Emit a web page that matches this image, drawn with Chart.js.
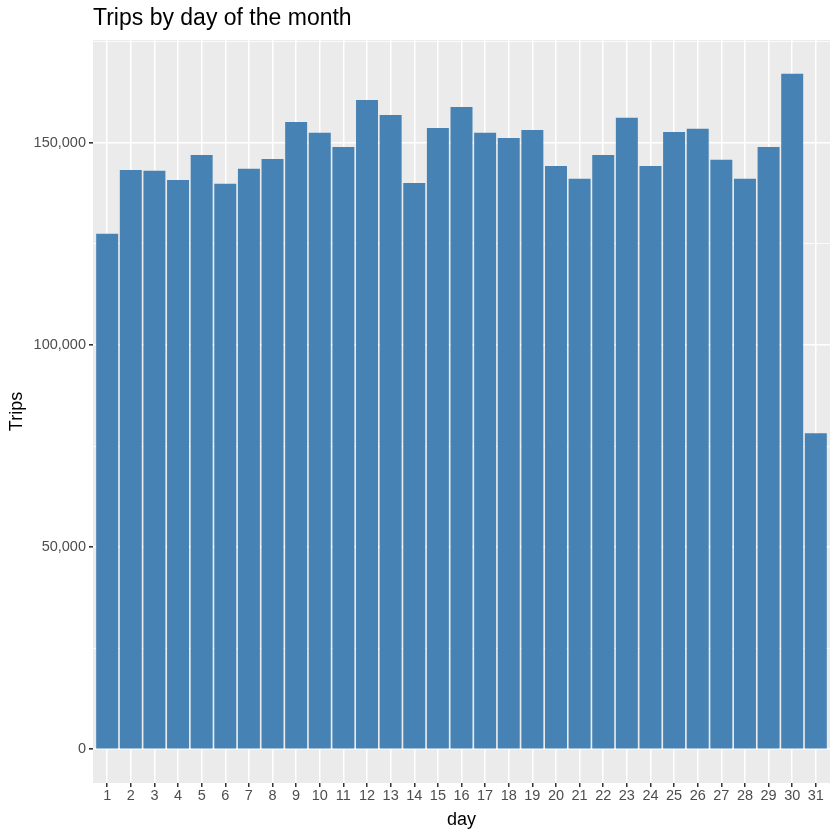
<!DOCTYPE html>
<html>
<head>
<meta charset="utf-8">
<script src="https://cdn.jsdelivr.net/npm/chart.js@4"></script>
<style>
  html, body { margin: 0; padding: 0; background: #ffffff; }
  #wrap { width: 840px; height: 840px; }
</style>
</head>
<body>
<div id="wrap"><canvas id="chart"></canvas></div>
<script>
const days = [1, 2, 3, 4, 5, 6, 7, 8, 9, 10, 11, 12, 13, 14, 15, 16,
  17, 18, 19, 20, 21, 22, 23, 24, 25, 26, 27, 28, 29, 30, 31]
const trips = [127500, 143300, 143100, 140800, 147000, 139900, 143600, 146000,
  155200, 152500, 149000, 160600, 156900, 140100, 153700, 158900,
  152500, 151200, 153200, 144300, 141100, 147000, 156200, 144300,
  152700, 153500, 145800, 141100, 149000, 167100, 78200]
const yTicks = [0, 25000, 50000, 75000, 100000, 125000, 150000, 175000]
const yLabels = [0, 50000, 100000, 150000]

const font = 'Liberation Sans, Arial, sans-serif'
const isMajor = (v) => yLabels.includes(v)

const panelBg = {
  id: 'panelBg',
  beforeDraw(chart) {
    const { ctx, chartArea: a } = chart
    ctx.save()
    ctx.fillStyle = '#ebebeb'
    ctx.fillRect(a.left, a.top, a.right - a.left, a.bottom - a.top)
    ctx.restore()
  },
  afterDraw(chart) {
    const { ctx, chartArea: a } = chart
    ctx.save()
    ctx.fillStyle = '#000000'
    ctx.font = `23px ${font}`
    ctx.textBaseline = 'alphabetic'
    ctx.fillText('Trips by day of the month', a.left, 25)
    ctx.restore()
  }
}

const yMax = Math.max(...trips)
new Chart(document.getElementById('chart'), {
  type: 'bar',
  data: {
    datasets: [{
      data: days.map((d, i) => ({ x: d, y: trips[i] })),
      backgroundColor: '#4682b4',
      borderWidth: 0,
      barPercentage: 0.93,
      categoryPercentage: 1
    }]
  },
  options: {
    responsive: true,
    maintainAspectRatio: false,
    animation: false,
    layout: { padding: { top: 40, right: 10, left: 5, bottom: 0 } },
    plugins: { legend: { display: false }, tooltip: { enabled: false } },
    scales: {
      x: {
        type: 'linear',
        offset: false,
        min: 0.4,
        max: 31.6,
        afterBuildTicks: (s) => { s.ticks = days.map(v => ({ value: v })) },
        afterFit: (s) => { s.height = 57 },
        border: { display: false },
        grid: { offset: false, color: '#ffffff', lineWidth: 1.5, tickColor: '#333333', tickLength: 4 },
        ticks: { color: '#4d4d4d', font: { family: font, size: 14.5 }, padding: 0, maxRotation: 0, autoSkip: false },
        title: { display: true, text: 'day', color: '#000000', font: { family: font, size: 18 }, padding: { top: 0, bottom: 9 } }
      },
      y: {
        min: -0.05 * yMax,
        max: 1.05 * yMax,
        afterBuildTicks: (s) => { s.ticks = yTicks.map(v => ({ value: v })) },
        afterFit: (s) => { s.width = 88 },
        border: { display: false },
        grid: {
          color: '#ffffff',
          lineWidth: (c) => isMajor(c.tick.value) ? 1.6 : 0.8,
          tickColor: (c) => isMajor(c.tick.value) ? '#333333' : 'rgba(0,0,0,0)',
          tickLength: 4
        },
        ticks: {
          color: '#4d4d4d',
          font: { family: font, size: 14.5 },
          padding: 3,
          callback: (v) => isMajor(v) ? v.toLocaleString('en-US') : ''
        },
        title: { display: true, text: 'Trips', color: '#000000', font: { family: font, size: 18 }, padding: { top: 1, bottom: 0 } }
      }
    }
  },
  plugins: [panelBg]
})
</script>
</body>
</html>
